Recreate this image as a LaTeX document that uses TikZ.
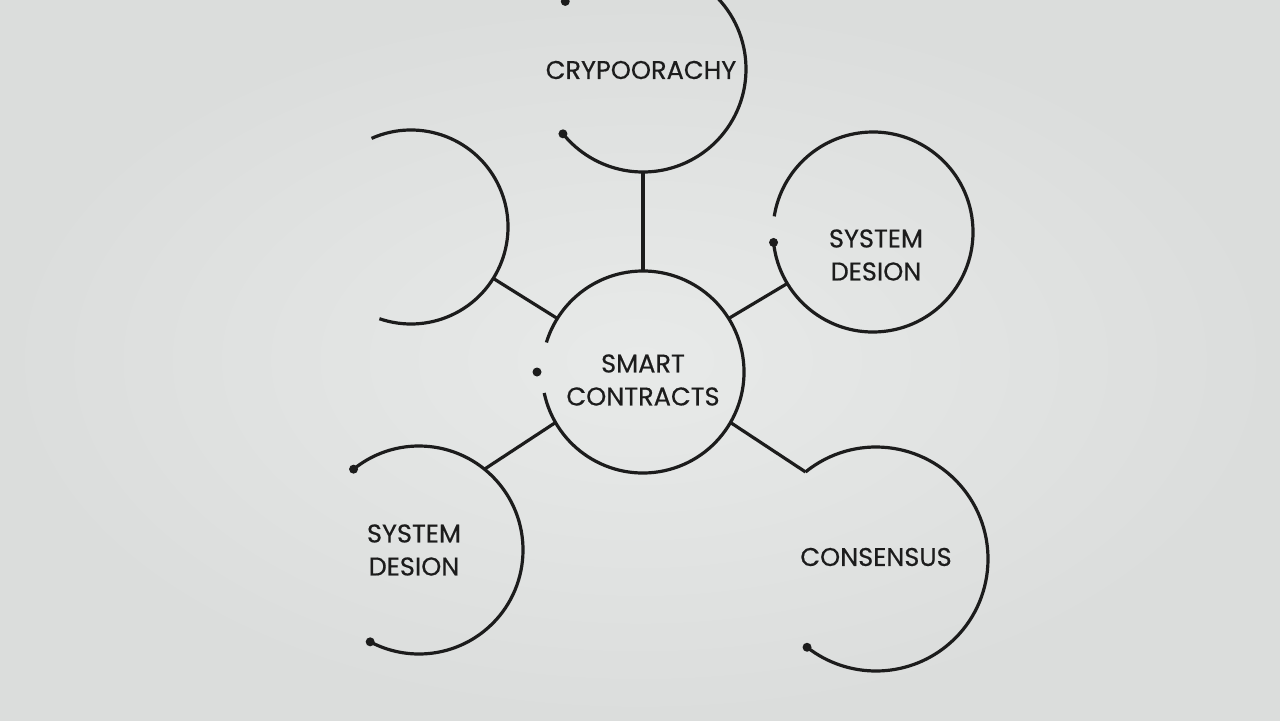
\documentclass[tikz,border=0pt]{standalone}
\usepackage{fontspec}
\setmainfont{Poppins}
\newfontfamily\lblfont{Poppins}[FakeBold=0.5]
\usepackage{tikz}
\usetikzlibrary{positioning}
\usetikzlibrary{shapes}
\definecolor{paper}{HTML}{E8EAE9}
\definecolor{paperedge}{HTML}{DBDDDC}
\definecolor{ink}{HTML}{1C1C1C}
\tikzstyle{bubble}=[circle,inner sep=0pt,outer sep=0pt]
\tikzstyle{lbl}=[align=center,text=ink,font=\lblfont\fontsize{12.8}{16.5}\selectfont]
\tikzstyle{ring}=[draw=ink,line width=1.6pt]
\tikzstyle{spoke}=[draw=ink,line width=1.6pt]
\tikzstyle{tip}=[fill=ink]

\begin{document}
\begin{tikzpicture}[x=0.5pt,y=0.5pt]

%Paper
    \useasboundingbox (0,0) rectangle (1280,720);
    \clip (0,0) rectangle (1280,720);
    \shade[inner color=paper, outer color=paperedge] (0,0) rectangle (1280,720);

%Bubbles (diameter in pt = radius in px)
    \foreach \pos/\name/\r/\dx/\dy/\label in {{(643,348)/cen/101/0/-8/{SMART\\CONTRACTS}}, {(643,651)/cry/103/-2/-1/{CRYPOORACHY}}, {(411,493)/ul/97/0/0/{}}, {(873,488)/sdr/100/3/-23/{SYSTEM\\DESION}}, {(419,170)/sdl/104/-5/0/{SYSTEM\\DESION}}, {(876,161)/con/112/0/2/{CONSENSUS}}}
    {
        \node[bubble, minimum size=\r pt] (\name) at \pos {};
        \node[lbl] (\name-txt) at ([shift={(\dx,\dy)}]\name.center) {\label};
    }

%Open rings
  \foreach \name/\from/\to/\r in {cen/-168/163/101, cry/139/-141/103, ul/114/-109/97, sdr/-174/171/100, sdl/129/-118/104, con/129/-128/112}
          \draw[ring] (\name.\from) arc[start angle=\from, end angle=\to, radius=\r];

%Spokes
  \foreach \source/\sa/\dest/\da in {ul/-32/cen/148, cry/-90/cen/90, sdr/211/cen/32, sdl/51/cen/210, con/129/cen/-30}
          \draw[spoke] (\source.\sa) -- (\dest.\da);

%Dots
  \foreach \name/\a in {cry/139, cry/-141, sdr/-174, sdl/129, sdl/-118, con/-128}
          \fill[tip] (\name.\a) circle[radius=4.5];
\fill[tip] ([shift={(180:106)}]cen.center) circle[radius=4.5];

\end{tikzpicture}
\end{document}
